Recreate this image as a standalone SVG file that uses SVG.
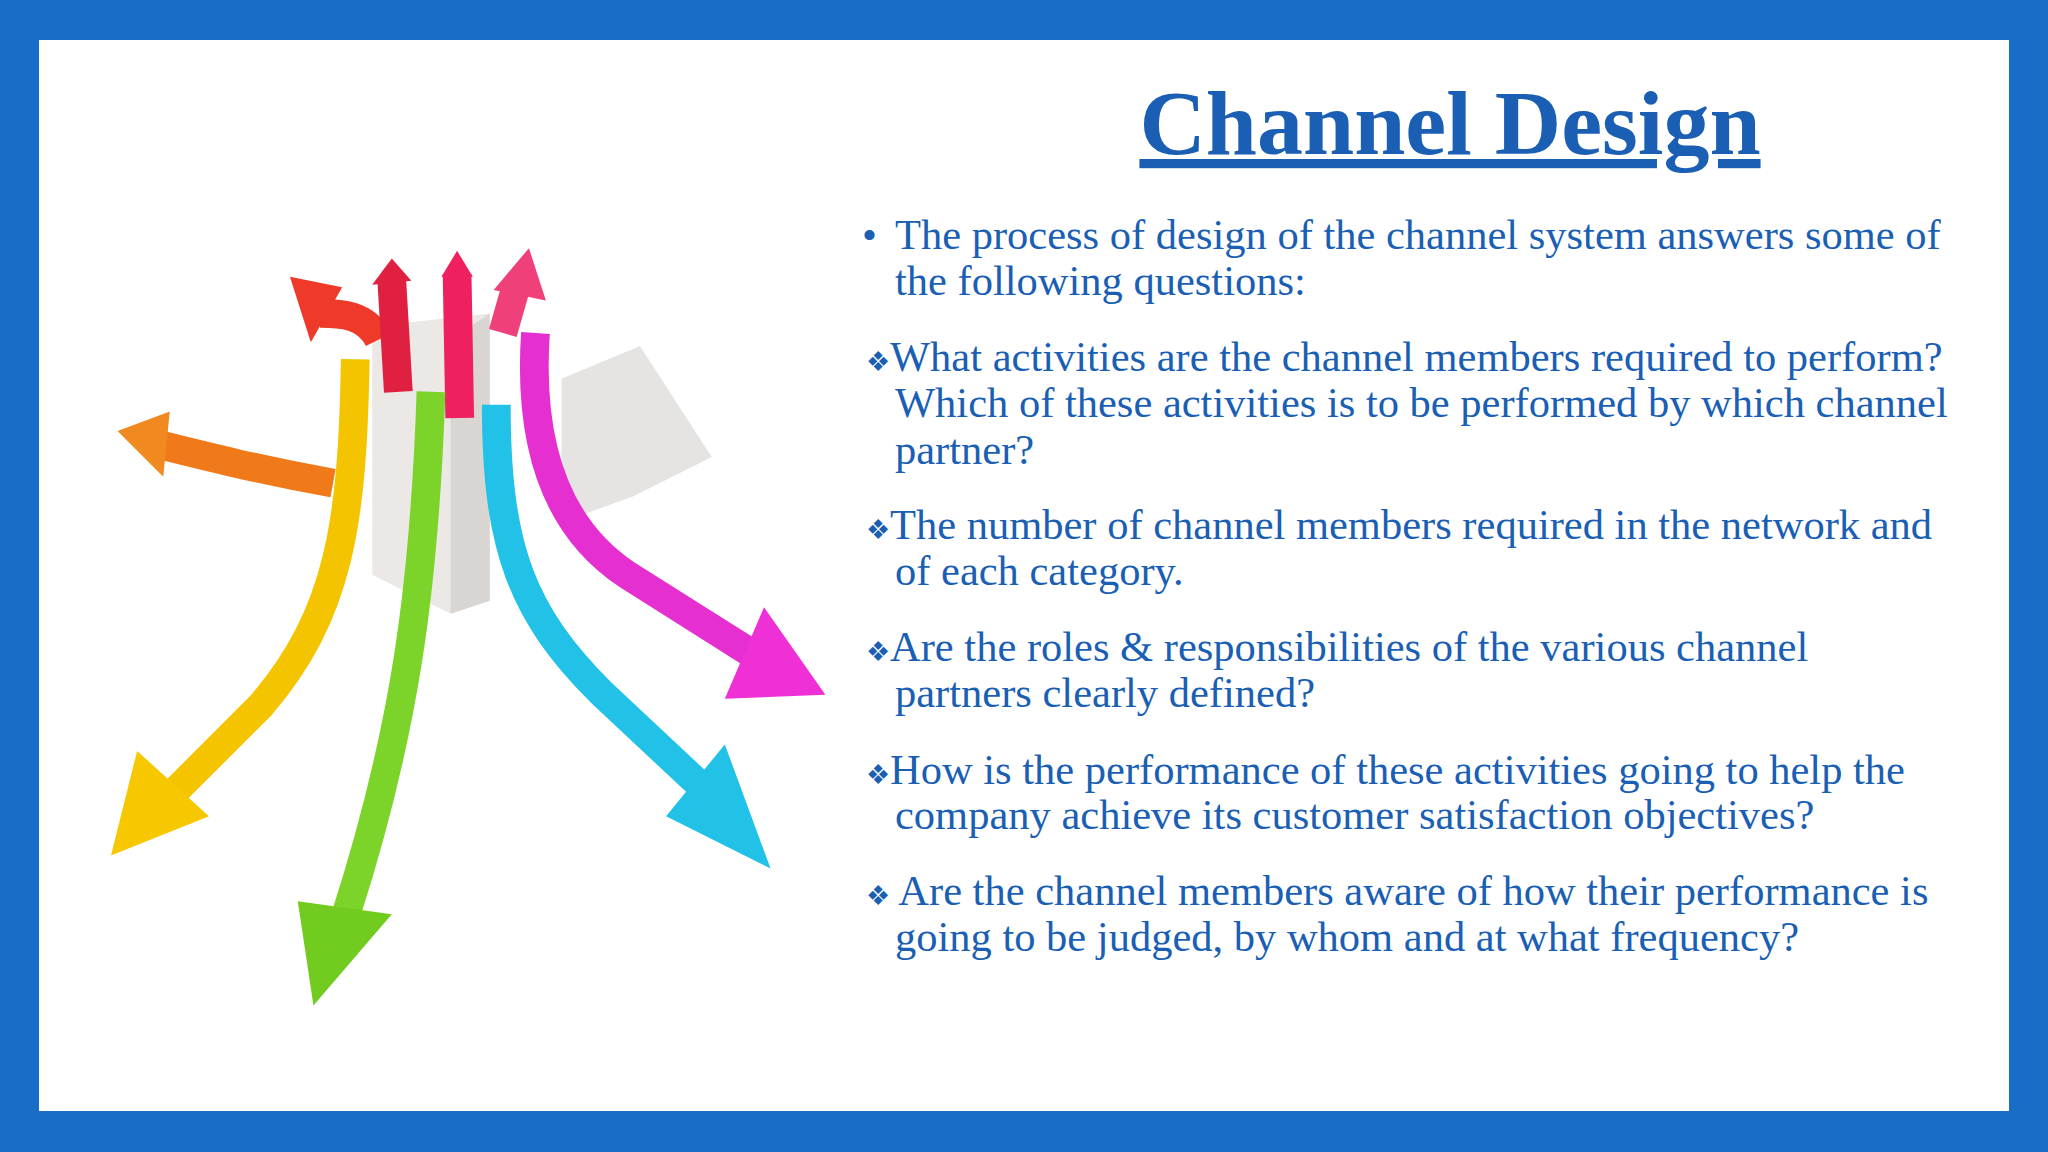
<svg xmlns="http://www.w3.org/2000/svg" width="2048" height="1152" viewBox="0 0 2048 1152">
<style>
.t{font-family:"Liberation Serif","Times New Roman",serif;font-size:42.5px;fill:#1a5fb4}
.d{font-size:27px}
.a{fill:none;stroke-width:22;stroke-linecap:butt;stroke-linejoin:round}
</style>
<rect width="2048" height="1152" fill="#1a6dc6"/>
<rect x="39" y="40" width="1970" height="1071" fill="#fff"/>
<g id="picture" transform="scale(1.306)">
<polygon points="430,290 490,265 545,350 485,380 430,400" fill="#e6e4e2"/>
<polygon points="285,250 375,240 375,460 345,470 285,440" fill="#ebe8e6"/>
<polygon points="345,260 375,240 375,460 345,470" fill="#d9d5d2"/>
<path class="a" stroke="#f07a1a" d="M255,370 C200,360 160,350 120,340"/>
<polygon points="90,330 130,315 125,365" fill="#f08a20"/>
<path class="a" stroke="#ef3a2a" d="M290,260 C280,240 260,240 245,240"/>
<polygon points="222,212 262,220 238,262" fill="#ef3a2a"/>
<path class="a" stroke="#e02040" d="M305,300 L300,215"/>
<polygon points="285,218 315,215 300,198" fill="#e02040"/>
<path class="a" stroke="#ee2060" d="M352,320 L350,210"/>
<polygon points="338,212 362,212 350,192" fill="#ee2060"/>
<path class="a" stroke="#f0407a" d="M385,255 L395,220"/>
<polygon points="378,222 418,230 405,190" fill="#f0407a"/>
<path class="a" stroke="#f5c400" d="M272,275 C270,400 260,470 200,540 L125,615"/>
<polygon points="85,655 105,575 160,625" fill="#f7c800"/>
<path class="a" stroke="#7cd42a" d="M330,300 C325,450 310,560 265,700"/>
<polygon points="240,770 228,690 300,700" fill="#72cc20"/>
<path class="a" stroke="#22c1e8" d="M380,310 C380,420 400,470 460,530 L540,605"/>
<polygon points="590,665 510,625 555,570" fill="#22c1e8"/>
<path class="a" stroke="#e52fd0" d="M410,255 C405,330 420,400 480,440 L575,500"/>
<polygon points="632,532 555,535 585,465" fill="#ee30d6"/>
</g>
<g id="title">
<text x="1450" y="154" text-anchor="middle" font-family="Liberation Serif,serif" font-weight="bold" font-size="92" fill="#1a5fb4" text-decoration="underline">Channel Design</text>
</g>
<g id="text">
<text class="t" x="862" y="249">•</text>
<text class="t" x="895" y="249">The process of design of the channel system answers some of</text>
<text class="t" x="895" y="295">the following questions:</text>
<text class="t" x="866" y="371"><tspan class="d">❖</tspan>What activities are the channel members required to perform?</text>
<text class="t" x="895" y="417">Which of these activities is to be performed by which channel</text>
<text class="t" x="895" y="464">partner?</text>
<text class="t" x="866" y="539"><tspan class="d">❖</tspan>The number of channel members required in the network and</text>
<text class="t" x="895" y="585">of each category.</text>
<text class="t" x="866" y="661"><tspan class="d">❖</tspan>Are the roles &amp; responsibilities of the various channel</text>
<text class="t" x="895" y="707">partners clearly defined?</text>
<text class="t" x="866" y="784"><tspan class="d">❖</tspan>How is the performance of these activities going to help the</text>
<text class="t" x="895" y="829">company achieve its customer satisfaction objectives?</text>
<text class="t" x="866" y="905"><tspan class="d">❖</tspan> Are the channel members aware of how their performance is</text>
<text class="t" x="895" y="951">going to be judged, by whom and at what frequency?</text>
</g>
</svg>
